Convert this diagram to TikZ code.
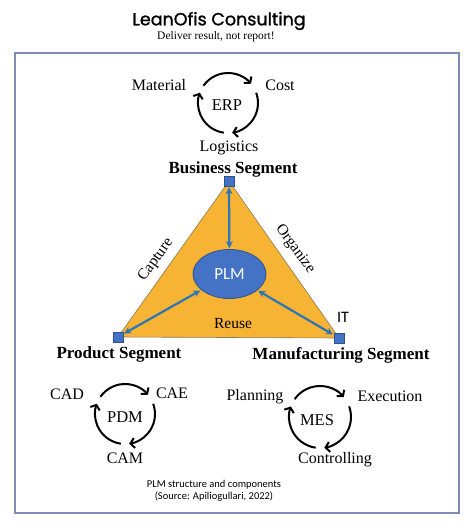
\documentclass[tikz,border=0pt]{standalone}
\usepackage{fontspec}
\setmainfont{Liberation Serif}
\newfontfamily\calib{Carlito}
\newfontfamily\titlefont[FakeBold=1.2]{Poppins}
\usetikzlibrary{arrows.meta,shapes.geometric}
\definecolor{framec}{HTML}{7F8DB6}
\definecolor{trifill}{HTML}{F7B334}
\definecolor{triedge}{HTML}{8A7A55}
\definecolor{sqblue}{HTML}{4472C4}
\definecolor{sqedge}{HTML}{2F528F}
\definecolor{arrblue}{HTML}{2E75B6}
\begin{document}
\begin{tikzpicture}[x=1pt,y=-1pt,
  lbl/.style={inner sep=0pt,font=\fontsize{16}{18}\selectfont},
  ctr/.style={inner sep=0pt,font=\fontsize{16.5}{18}\selectfont},
  seg/.style={inner sep=0pt,font=\bfseries\fontsize{17}{19}\selectfont},
  edgelbl/.style={inner sep=0pt,font=\fontsize{15.5}{18}\selectfont},
  cyc/.style={line width=2pt,-{Straight Barb[length=4pt,width=10pt]}},
  sq/.style={draw=sqedge,fill=sqblue,minimum size=10pt,inner sep=0pt,line width=0.5pt},
  barrow/.style={arrblue,line width=2.2pt,{Stealth[length=7pt,width=7pt]}-{Stealth[length=7pt,width=7pt]},shorten <=1pt,shorten >=1pt}
]
\useasboundingbox (0,0) rectangle (474,524);
\fill[white] (0,0) rectangle (474,524);

% title
\node[inner sep=0pt,font=\titlefont\fontsize{17.5}{20}\selectfont] (title) at (219,21) {LeanOfis Consulting};
\node[inner sep=0pt,font=\fontsize{11.5}{13}\selectfont] (sub) at (216,36.5) {Deliver result, not report!};

% frame
\node[draw=framec,line width=1.5pt,minimum width=444pt,minimum height=460pt,inner sep=0pt] (frame) at (237,283) {};

% triangle
\coordinate (A) at (229,181);
\coordinate (B) at (118,337);
\coordinate (C) at (339,338);
\filldraw[fill=trifill,draw=triedge,line width=0.6pt] (A) -- (B) -- (C) -- cycle;
\node[sq] (sqA) at (A) {};
\node[sq] (sqB) at (B) {};
\node[sq] (sqC) at (C) {};

\node[ellipse,draw=sqedge,fill=sqblue,line width=0.8pt,minimum width=73pt,minimum height=49pt,inner sep=0pt,
      text=white,font=\calib\fontsize{17}{19}\selectfont] (plm) at (229.5,274) {PLM};

\draw[barrow] (sqA) -- (plm);
\draw[barrow] (sqB) -- (plm);
\draw[barrow] (sqC) -- (plm);

\node[edgelbl,rotate=54] (capture) at (156,260) {Capture};
\node[edgelbl,rotate=-54] (organize) at (295,249) {Organize};
\node[edgelbl] (reuse) at (233,323) {Reuse};
\node[inner sep=0pt,font=\calib\fontsize{16}{18}\selectfont] (it) at (343,317) {IT};

\node[seg] (bseg) at (233,169) {Business Segment};
\node[seg] (pseg) at (119,354) {Product Segment};
\node[seg] (mseg) at (341,355) {Manufacturing Segment};

% ERP cycle
\coordinate (erp) at (228,103);
\draw[cyc] (erp) ++(215:30) arc[start angle=215,end angle=320,radius=30];
\draw[cyc] (erp) ++(340:30) arc[start angle=340,end angle=442,radius=30];
\draw[cyc] (erp) ++(98:30) arc[start angle=98,end angle=200,radius=30];
\node[ctr] (erpl) at (227,105) {ERP};
\node[lbl] (material) at (159,85) {Material};
\node[lbl] (cost) at (280,85) {Cost};
\node[lbl] (logistics) at (229,148) {Logistics};

% PDM cycle
\coordinate (pdm) at (125,414);
\draw[cyc] (pdm) ++(215:30) arc[start angle=215,end angle=320,radius=30];
\draw[cyc] (pdm) ++(340:30) arc[start angle=340,end angle=442,radius=30];
\draw[cyc] (pdm) ++(98:30) arc[start angle=98,end angle=200,radius=30];
\node[ctr] (pdml) at (125,417) {PDM};
\node[lbl] (cad) at (67,394) {CAD};
\node[lbl] (cae) at (172,393) {CAE};
\node[lbl] (cam) at (125,458) {CAM};

% MES cycle
\coordinate (mes) at (320,417);
\draw[cyc] (mes) ++(215:31) arc[start angle=215,end angle=320,radius=31];
\draw[cyc] (mes) ++(340:31) arc[start angle=340,end angle=442,radius=31];
\draw[cyc] (mes) ++(98:31) arc[start angle=98,end angle=200,radius=31];
\node[ctr] (mesl) at (317,420) {MES};
\node[lbl] (planning) at (255,397) {Planning};
\node[lbl] (execution) at (390,396) {Execution};
\node[lbl] (controlling) at (335,460) {Controlling};

% caption
\node[inner sep=0pt,font=\calib\fontsize{10.5}{12}\selectfont,align=center] (cap) at (214,490.5)
  {PLM structure and components\\(Source: Apiliogullari, 2022)};
\end{tikzpicture}
\end{document}
